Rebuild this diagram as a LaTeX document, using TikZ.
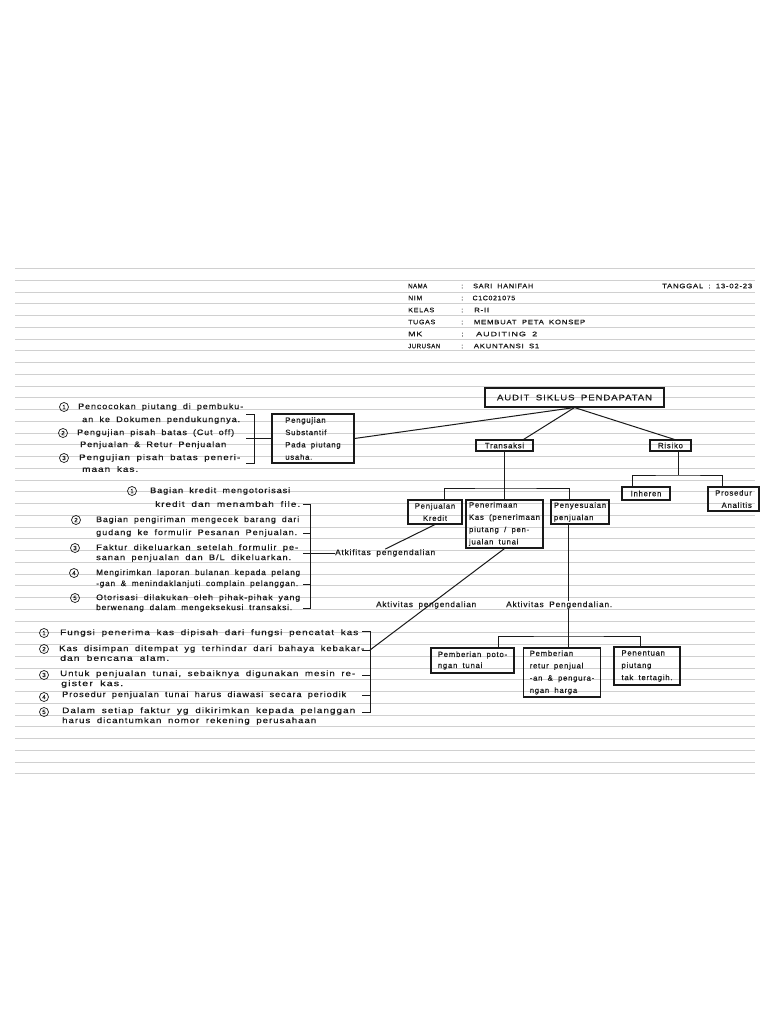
\documentclass[tikz,border=0pt]{standalone}
\usepackage{fontspec}
\usepackage{graphicx}
\newfontfamily\hand[LetterSpace=10,WordSpace=1.8,FakeBold=0.6]{Liberation Sans}
\definecolor{inkc}{HTML}{1A1A1A}
\definecolor{rulec}{HTML}{D0D0D0}
\newcommand{\wl}[2]{\resizebox{#1pt}{\height}{#2}}
\tikzset{
  ink/.style={draw=inkc,line width=1pt},
  txt/.style={anchor=west,inner sep=0pt,text=inkc,font=\hand\fontsize{8}{9}\selectfont},
  hdr/.style={anchor=west,inner sep=0pt,text=inkc,font=\hand\fontsize{6.5}{7}\selectfont},
  numc/.style={circle,draw=inkc,line width=0.7pt,inner sep=0pt,minimum size=9pt,text=inkc,font=\hand\fontsize{6}{6}\selectfont},
  box/.style={draw=inkc,line width=1.1pt,inner sep=0pt,text=inkc,font=\hand\fontsize{7.7}{12.3}\selectfont}
}
\begin{document}
\begin{tikzpicture}[x=1pt,y=-1pt]
  \fill[white] (0,0) rectangle (768,1024);
  \useasboundingbox (0,0) rectangle (768,1024);
  \foreach \k in {0,...,43}
    \draw[rulec,line width=0.5pt] (15,{268.3+11.75*\k}) -- (755,{268.3+11.75*\k});

  % identitas
  \node[hdr] (nama) at (408,286) {\wl{19}{NAMA}};
  \node[hdr] (namav) at (461,286) {\wl{72}{:\ \ SARI HANIFAH}};
  \node[hdr] (tgl) at (662,286) {\wl{90}{TANGGAL : 13-02-23}};
  \node[hdr] (nim) at (408,298) {\wl{14}{NIM}};
  \node[hdr] (nimv) at (461,298) {\wl{54}{:\ \ C1C021075}};
  \node[hdr] (kelas) at (408,310) {\wl{26}{KELAS}};
  \node[hdr] (kelasv) at (461,310) {\wl{28}{:\ \ R-II}};
  \node[hdr] (tugas) at (408,322) {\wl{27}{TUGAS}};
  \node[hdr] (tugasv) at (461,322) {\wl{124}{:\ \ MEMBUAT PETA KONSEP}};
  \node[hdr] (mk) at (408,334) {\wl{14}{MK}};
  \node[hdr] (mkv) at (461,334) {\wl{76}{:\ \ AUDITING 2}};
  \node[hdr] (jur) at (408,346) {\wl{32}{JURUSAN}};
  \node[hdr] (jurv) at (461,346) {\wl{78}{:\ \ AKUNTANSI S1}};

  % kotak
  \node[box,minimum width=179pt,minimum height=19pt,font=\hand\fontsize{8}{9}\selectfont] (root) at (574.5,397.5) {\wl{155}{AUDIT SIKLUS PENDAPATAN}};
  \node[box,minimum width=82pt,minimum height=49pt,align=left] (sub) at (313,438.5) {Pengujian\\Substantif\\Pada piutang\\usaha.};
  \node[box,minimum width=57pt,minimum height=11pt] (tr) at (504.5,445.5) {Transaksi};
  \node[box,minimum width=41pt,minimum height=11pt] (ri) at (670.5,445.5) {Risiko};
  \node[box,minimum width=54pt,minimum height=24pt,align=center] (pk) at (435,512) {Penjualan\\Kredit};
  \node[box,minimum width=77pt,minimum height=48pt,align=left] (pn) at (504.5,524) {Penerimaan\\Kas (penerimaan\\piutang / pen-\\jualan tunai};
  \node[box,minimum width=58pt,minimum height=24pt,align=left] (ps) at (580,512) {Penyesuaian\\penjualan};
  \node[box,minimum width=48pt,minimum height=13pt] (inh) at (646,493.5) {Inheren};
  \node[box,minimum width=51pt,minimum height=24pt,align=right] (pa) at (733.5,499) {Prosedur\\Analitis};
  \node[box,minimum width=83pt,minimum height=25pt,align=left,font=\hand\fontsize{7.7}{11}\selectfont] (pot) at (472.5,660.5) {Pemberian poto-\\ngan tunai};
  \node[box,minimum width=77pt,minimum height=49pt,align=left] (retur) at (562,672.5) {Pemberian\\retur penjual\\-an \& pengura-\\ngan harga};
  \node[box,minimum width=66pt,minimum height=38pt,align=left] (tagih) at (647,666) {Penentuan\\piutang\\tak tertagih.};

  % pengujian substantif
  \node[numc] (u1n) at (64,407) {1};
  \node[txt] (u1a) at (78,407) {\wl{165}{Pencocokan piutang di pembuku-}};
  \node[txt] (u1b) at (82,420) {\wl{158}{an ke Dokumen pendukungnya.}};
  \node[numc] (u2n) at (63,433) {2};
  \node[txt] (u2a) at (77,433) {\wl{157}{Pengujian pisah batas (Cut off)}};
  \node[txt] (u2b) at (80,445) {\wl{146}{Penjualan \& Retur Penjualan}};
  \node[numc] (u3n) at (64,458) {3};
  \node[txt] (u3a) at (79,458) {\wl{161}{Pengujian pisah batas peneri-}};
  \node[txt] (u3b) at (82,469) {\wl{56}{maan kas.}};

  % penjualan kredit
  \node[numc] (k1n) at (132,491) {1};
  \node[txt] (k1a) at (150,491) {\wl{140}{Bagian kredit mengotorisasi}};
  \node[txt] (k1b) at (155,504) {\wl{145}{kredit dan menambah file.}};
  \node[numc] (k2n) at (76,520) {2};
  \node[txt] (k2a) at (96,520) {\wl{203}{Bagian pengiriman mengecek barang dari}};
  \node[txt] (k2b) at (96,533) {\wl{201}{gudang ke formulir Pesanan Penjualan.}};
  \node[numc] (k3n) at (75,548) {3};
  \node[txt] (k3a) at (96,548) {\wl{202}{Faktur dikeluarkan setelah formulir pe-}};
  \node[txt] (k3b) at (96,558) {\wl{195}{sanan penjualan dan B/L dikeluarkan.}};
  \node[numc] (k4n) at (74,573) {4};
  \node[txt] (k4a) at (96,573) {\wl{204}{Mengirimkan laporan bulanan kepada pelang}};
  \node[txt] (k4b) at (96,584) {\wl{202}{-gan \& menindaklanjuti complain pelanggan.}};
  \node[numc] (k5n) at (75,598) {5};
  \node[txt] (k5a) at (96,598) {\wl{204}{Otorisasi dilakukan oleh pihak-pihak yang}};
  \node[txt] (k5b) at (96,608) {\wl{196}{berwenang dalam mengeksekusi transaksi.}};

  % penerimaan kas
  \node[numc] (t1n) at (44,633) {1};
  \node[txt] (t1a) at (60,633) {\wl{298}{Fungsi penerima kas dipisah dari fungsi pencatat kas}};
  \node[numc] (t2n) at (44,649) {2};
  \node[txt] (t2a) at (59,649) {\wl{305}{Kas disimpan ditempat yg terhindar dari bahaya kebakar-}};
  \node[txt] (t2b) at (60,658) {\wl{109}{dan bencana alam.}};
  \node[numc] (t3n) at (44,675) {3};
  \node[txt] (t3a) at (60,674) {\wl{295}{Untuk penjualan tunai, sebaiknya digunakan mesin re-}};
  \node[txt] (t3b) at (61,684) {\wl{62}{gister kas.}};
  \node[numc] (t4n) at (44,697) {4};
  \node[txt] (t4a) at (62,695) {\wl{284}{Prosedur penjualan tunai harus diawasi secara periodik}};
  \node[numc] (t5n) at (44,712) {5};
  \node[txt] (t5a) at (62,711) {\wl{293}{Dalam setiap faktur yg dikirimkan kepada pelanggan}};
  \node[txt] (t5b) at (62,721) {\wl{254}{harus dicantumkan nomor rekening perusahaan}};

  \node[txt] (akt1) at (335,553) {\wl{100}{Atkifitas pengendalian}};
  \node[txt] (akt2) at (376,605) {\wl{100}{Aktivitas pengendalian}};
  \node[txt] (akt3) at (506,605) {\wl{106}{Aktivitas Pengendalian.}};

  % kurung
  \draw[ink] (246,414) -| (254,463) -- (246,463);
  \draw[ink] (246,438.5) -- (sub.west);
  \draw[ink] (303,504) -| (310,608) -- (303,608);
  \foreach \y in {533,584} \draw[ink] (303,\y) -- (310,\y);
  \draw[ink] (303,553) -- (akt1.west);
  \draw[ink] (362,631) -| (370,712) -- (362,712);
  \foreach \y in {650,675,695} \draw[ink] (362,\y) -- (370,\y);
  \coordinate (b3m) at (370,650);

  % garis
  \coordinate (fk1) at (504.5,488);
  \coordinate (fk2) at (678.5,475);
  \coordinate (fk4) at (568,636);
  \draw[ink] (sub.east) -- (root.south);
  \draw[ink] (root.south) -- ([xshift=-10pt]tr.north east);
  \draw[ink] (root.south) -- ([xshift=4pt]ri.north);
  \draw[ink] (tr.south) -- (pn.north);
  \draw[ink] ([xshift=9pt]pk.north) |- (fk1) -| ([xshift=-11pt]ps.north);
  \draw[ink] ([xshift=8pt]ri.south) -- (fk2);
  \draw[ink] ([xshift=-14pt]inh.north) |- (fk2) -| ([xshift=-11pt]pa.north);
  \draw[ink] (pk.south) -- (akt1.north);
  \draw[ink] (pn.south) -- (b3m);
  \draw[ink] ([xshift=-12pt]ps.south) -- (fk4 |- akt3.north);
  \draw[ink] (fk4 |- akt3.south) -- (fk4);
  \draw[ink] ([xshift=25.5pt]pot.north) |- (fk4) -| ([xshift=-7pt]tagih.north);
  \draw[ink] (fk4) -- (fk4 |- retur.north);
\end{tikzpicture}
\end{document}
